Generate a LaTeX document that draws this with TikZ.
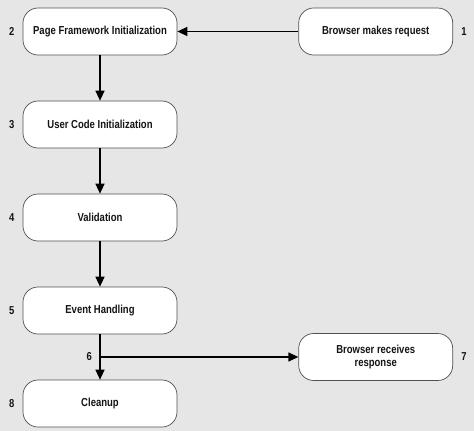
\documentclass[tikz,border=0pt]{standalone}
\usepackage{fontspec}
\setmainfont{Liberation Sans}[FakeStretch=0.82]
\usepackage{tikz}
\usetikzlibrary{positioning,arrows.meta,calc}
\definecolor{canvas}{HTML}{E6E6E6}
\definecolor{ink}{HTML}{141414}
\definecolor{rim}{HTML}{505050}

\begin{document}
\begin{tikzpicture}[x=1pt,y=1pt,node distance=45.3pt and 121pt,
  stage/.style={draw=rim,line width=0.7pt,fill=white,rounded corners=15pt,
    minimum width=154pt,minimum height=47pt,align=center,
    font=\fontsize{11.6}{12.5}\selectfont\bfseries,text=ink},
  tag/.style={font=\fontsize{11.5}{13}\selectfont\bfseries,text=ink,inner sep=2pt},
  flow/.style={draw=black,line width=1.3pt,-{Triangle[length=10pt,width=9pt]}}]
\fill[canvas] (0,0) rectangle (474,-431);
\useasboundingbox (0,0) rectangle (474,-431);
% main column
\node[stage] (init) at (100,-31.5) {Page Framework Initialization};
\node[stage,below=of init] (user) {User Code Initialization};
\node[stage,below=of user] (valid) {Validation};
\node[stage,below=of valid] (event) {Event Handling};
\node[stage,below=of event] (clean) {Cleanup};
% browser side
\node[stage,right=of init] (req) {Browser makes request};
\coordinate (split) at ($(event.south)!0.5!(clean.north)$);
\node[stage] (resp) at (split -| req) {Browser receives\\response};
% step numbers
\node[tag,left=6pt of init] {2};
\node[tag,left=6pt of user] {3};
\node[tag,left=6pt of valid] {4};
\node[tag,left=6pt of event] {5};
\node[tag,left=6pt of clean] {8};
\node[tag,right=6pt of req] {1};
\node[tag,right=6pt of resp] {7};
\node[tag,anchor=east,xshift=-6pt] at (split) {6};
% connectors
\draw[flow] (req) -- (init);
\draw[flow] (init) -- (user);
\draw[flow] (user) -- (valid);
\draw[flow] (valid) -- (event);
\draw[flow] (event) -- (clean);
\draw[flow] (split) -- (resp);
\end{tikzpicture}
\end{document}
